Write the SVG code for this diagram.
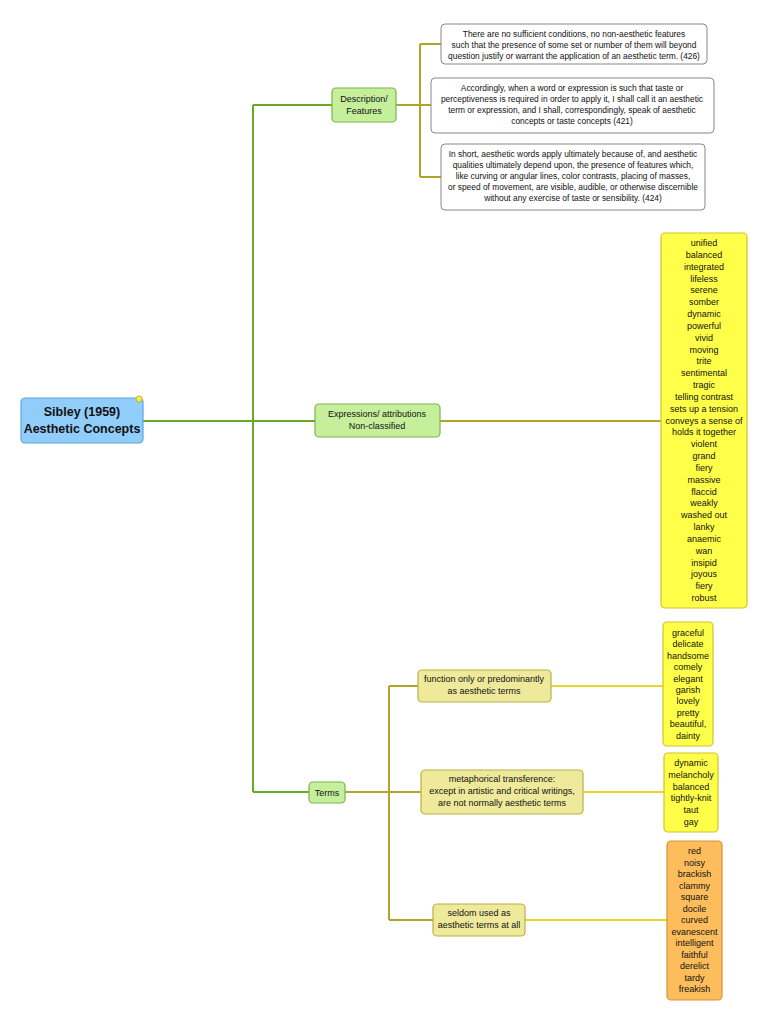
<svg xmlns="http://www.w3.org/2000/svg" width="768" height="1024" viewBox="0 0 768 1024">
<style>
text{font-family:"Liberation Sans",Arial,sans-serif;font-size:9px;fill:#111;text-anchor:middle}
.q{font-size:8.4px}
.g{fill:#c6ef9c;stroke:#7bb34a;stroke-width:1.2}
.w{fill:#fff;stroke:#888;stroke-width:1}
.y{fill:#ffff4a;stroke:#d2c22c;stroke-width:1.2}
.o{fill:#fdbd5c;stroke:#d59530;stroke-width:1.2}
.s{fill:#efe99c;stroke:#b9b145;stroke-width:1.2}
.tr{stroke:#6aa82a;stroke-width:2;fill:none}
.ol{stroke:#b0a52a;stroke-width:2;fill:none}
.yl{stroke:#e6d82a;stroke-width:2;fill:none}
</style>
<rect width="768" height="1024" fill="#fff"/>
<g id="connectors">
<path class="tr" d="M143 421H253M253 105V792M253 105H332M253 421H315M253 792H309"/>
<path class="ol" d="M396 105H420M420 44V177M420 44H441M420 105H431M420 177H441"/>
<path class="ol" d="M440 421H661"/>
<path class="ol" d="M345 792H389M389 686V920M389 686H418M389 792H421M389 920H433"/>
<path class="yl" d="M551 686H663M583 792H664M525 920H667"/>
</g>
<g id="root">
<rect x="21" y="398" width="122" height="45" rx="4" fill="#91cdfa" stroke="#5ea5dc" stroke-width="1.2"/>
<circle cx="139" cy="399" r="3" fill="#ffee44" stroke="#c8b020"/>
<text x="82" y="416" style="font-size:12.5px;font-weight:bold">Sibley (1959)</text>
<text x="82" y="433" style="font-size:12.5px;font-weight:bold">Aesthetic Concepts</text>
</g>
<g id="description">
<rect class="g" x="332" y="88" width="64" height="34" rx="4"/>
<text x="364" y="102">Description/</text><text x="364" y="114">Features</text>
</g>
<g id="quote1">
<rect class="w" x="441" y="24" width="266" height="40" rx="4"/>
<text class="q" x="574" y="37">There are no sufficient conditions, no non-aesthetic features</text>
<text class="q" x="574" y="48">such that the presence of some set or number of them will beyond</text>
<text class="q" x="574" y="59">question justify or warrant the application of an aesthetic term. (426)</text>
</g>
<g id="quote2">
<rect class="w" x="431" y="78" width="283" height="55" rx="4"/>
<text class="q" x="572" y="91">Accordingly, when a word or expression is such that taste or</text>
<text class="q" x="572" y="102">perceptiveness  is required in order to apply it, I shall call it an  aesthetic</text>
<text class="q" x="572" y="113">term or expression, and I shall, correspondingly,  speak of aesthetic</text>
<text class="q" x="572" y="124">concepts or taste concepts (421)</text>
</g>
<g id="quote3">
<rect class="w" x="441" y="144" width="264" height="66" rx="4"/>
<text class="q" x="573" y="157">In short, aesthetic words apply ultimately because of, and aesthetic</text>
<text class="q" x="573" y="168">qualities ultimately depend upon, the presence of features which,</text>
<text class="q" x="573" y="179">like curving or angular lines, color contrasts, placing of masses,</text>
<text class="q" x="573" y="190">or speed of movement, are visible, audible, or otherwise discernible</text>
<text class="q" x="573" y="201">without any exercise of taste or sensibility. (424)</text>
</g>
<g id="expressions">
<rect class="g" x="315" y="404" width="125" height="33" rx="4"/>
<text x="377" y="417">Expressions/ attributions</text><text x="377" y="429">Non-classified</text>
</g>
<g id="list-expressions">
<rect class="y" x="661" y="233" width="86" height="375" rx="4"/>
<text x="704" y="246">unified</text><text x="704" y="257.8">balanced</text><text x="704" y="269.7">integrated</text><text x="704" y="281.5">lifeless</text><text x="704" y="293.3">serene</text><text x="704" y="305.2">somber</text><text x="704" y="317">dynamic</text><text x="704" y="328.8">powerful</text><text x="704" y="340.6">vivid</text><text x="704" y="352.5">moving</text><text x="704" y="364.3">trite</text><text x="704" y="376.1">sentimental</text><text x="704" y="388">tragic</text><text x="704" y="399.8">telling contrast</text><text x="704" y="411.6">sets up a tension</text><text x="704" y="423.5">conveys a sense of</text><text x="704" y="435.3">holds it together</text><text x="704" y="447.1">violent</text><text x="704" y="459">grand</text><text x="704" y="470.8">fiery</text><text x="704" y="482.6">massive</text><text x="704" y="494.5">flaccid</text><text x="704" y="506.3">weakly</text><text x="704" y="518.1">washed out</text><text x="704" y="530">lanky</text><text x="704" y="541.8">anaemic</text><text x="704" y="553.6">wan</text><text x="704" y="565.5">insipid</text><text x="704" y="577.3">joyous</text><text x="704" y="589.1">fiery</text><text x="704" y="601">robust</text><text x="704" y="612.8" style="display:none"></text>
<text x="704" y="601" style="display:none"></text>
</g>
<g id="terms">
<rect class="g" x="309" y="782" width="36" height="21" rx="4"/>
<text x="327" y="795.5">Terms</text>
</g>
<g id="term-a">
<rect class="s" x="418" y="670" width="133" height="32" rx="4"/>
<text x="484" y="682">function only or predominantly</text><text x="484" y="694">as aesthetic terms</text>
</g>
<g id="term-b">
<rect class="s" x="421" y="770" width="162" height="44" rx="4"/>
<text x="502" y="782">metaphorical transference:</text><text x="502" y="794">except in artistic and critical writings,</text><text x="502" y="806">are not normally aesthetic terms</text>
</g>
<g id="term-c">
<rect class="s" x="433" y="904" width="92" height="32" rx="4"/>
<text x="479" y="916">seldom used as</text><text x="479" y="928">aesthetic terms at all</text>
</g>
<g id="list-a">
<rect class="y" x="663" y="622" width="50" height="124" rx="4"/>
<text x="688" y="636">graceful</text><text x="688" y="647.4">delicate</text><text x="688" y="658.8">handsome</text><text x="688" y="670.2">comely</text><text x="688" y="681.6">elegant</text><text x="688" y="693">garish</text><text x="688" y="704.4">lovely</text><text x="688" y="715.8">pretty</text><text x="688" y="727.2">beautiful,</text><text x="688" y="738.6">dainty</text>
</g>
<g id="list-b">
<rect class="y" x="664" y="753" width="54" height="79" rx="4"/>
<text x="691" y="766">dynamic</text><text x="691" y="777.8">melancholy</text><text x="691" y="789.6">balanced</text><text x="691" y="801.4">tightly-knit</text><text x="691" y="813.2">taut</text><text x="691" y="825">gay</text>
</g>
<g id="list-c">
<rect class="o" x="667" y="841" width="55" height="159" rx="4"/>
<text x="694.5" y="854">red</text><text x="694.5" y="865.5">noisy</text><text x="694.5" y="877">brackish</text><text x="694.5" y="888.5">clammy</text><text x="694.5" y="900">square</text><text x="694.5" y="911.5">docile</text><text x="694.5" y="923">curved</text><text x="694.5" y="934.5">evanescent</text><text x="694.5" y="946">intelligent</text><text x="694.5" y="957.5">faithful</text><text x="694.5" y="969">derelict</text><text x="694.5" y="980.5">tardy</text><text x="694.5" y="992">freakish</text>
</g>
</svg>
